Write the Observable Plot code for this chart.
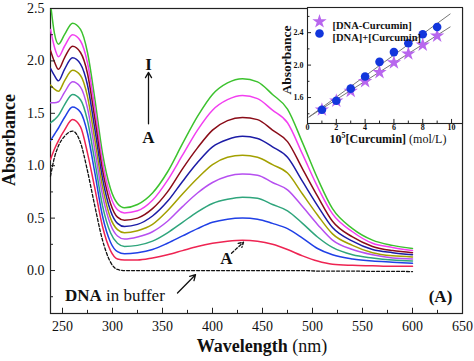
<!DOCTYPE html>
<html><head><meta charset="utf-8">
<script src="https://cdn.jsdelivr.net/npm/d3@7"></script>
<script src="https://cdn.jsdelivr.net/npm/@observablehq/plot@0.6"></script>
<style>
body{margin:0;background:#fff;}
#wrap{position:relative;width:474px;height:361px;}
#inset{position:absolute;left:278px;top:0;}
svg text{font-family:"Liberation Serif","Times New Roman",serif;}
</style></head><body><div id="wrap"></div>
<script>
// ---- Main spectra data ----
const wavelength = [238,242,246,252,260,268,275,282,290,298,305,312,325,340,355,370,385,400,415,430,445,460,475,490,505,520,540,560,580,600];
const seriesNames = ["I","H","G","F","E","D","C","B","A"];
const seriesColors = ["#3cc22e","#f23ff0","#8a0c18","#1c1ca6","#a3a000","#b64ff0","#2fa57c","#2040e6","#ee2452"];
const curveI = [2.55,2.26,2.16,2.25,2.36,2.30,2.08,1.66,1.12,0.78,0.64,0.60,0.63,0.74,0.94,1.21,1.47,1.68,1.79,1.83,1.80,1.68,1.54,1.22,0.88,0.59,0.40,0.29,0.24,0.21];
const curveH = [2.30,2.13,2.04,2.14,2.25,2.19,1.98,1.57,1.04,0.71,0.58,0.55,0.57,0.67,0.86,1.10,1.34,1.53,1.63,1.67,1.64,1.53,1.41,1.11,0.80,0.54,0.37,0.26,0.22,0.19];
const curveG = [2.10,1.99,1.92,2.03,2.14,2.08,1.88,1.47,0.96,0.64,0.51,0.48,0.50,0.59,0.75,0.97,1.17,1.34,1.43,1.46,1.44,1.34,1.23,0.97,0.71,0.47,0.32,0.23,0.19,0.17];
const curveF = [1.93,1.86,1.81,1.92,2.03,1.97,1.77,1.37,0.88,0.57,0.45,0.42,0.44,0.52,0.66,0.85,1.03,1.18,1.25,1.28,1.26,1.18,1.08,0.85,0.62,0.41,0.28,0.20,0.17,0.15];
const curveE = [1.77,1.73,1.71,1.81,1.91,1.86,1.66,1.27,0.80,0.50,0.39,0.36,0.38,0.44,0.57,0.73,0.88,1.01,1.08,1.10,1.08,1.01,0.93,0.73,0.53,0.35,0.24,0.17,0.14,0.13];
const curveD = [1.60,1.60,1.61,1.70,1.80,1.75,1.55,1.17,0.72,0.44,0.33,0.30,0.32,0.37,0.47,0.61,0.74,0.84,0.90,0.92,0.91,0.84,0.77,0.61,0.44,0.29,0.20,0.15,0.12,0.11];
const curveC = [1.41,1.44,1.48,1.58,1.68,1.63,1.43,1.06,0.62,0.36,0.26,0.23,0.24,0.28,0.36,0.46,0.56,0.64,0.68,0.70,0.69,0.63,0.57,0.45,0.32,0.22,0.15,0.12,0.10,0.09];
const curveB = [1.24,1.30,1.36,1.46,1.56,1.51,1.31,0.95,0.52,0.27,0.18,0.16,0.17,0.20,0.26,0.33,0.40,0.46,0.49,0.50,0.49,0.45,0.40,0.31,0.21,0.15,0.11,0.09,0.08,0.07];
const curveA = [1.06,1.16,1.24,1.34,1.44,1.37,1.12,0.80,0.42,0.19,0.11,0.10,0.10,0.12,0.15,0.19,0.23,0.26,0.28,0.29,0.28,0.25,0.20,0.14,0.09,0.06,0.05,0.045,0.04,0.04];
const dnaBuffer = [0.90,1.08,1.19,1.28,1.33,1.22,0.95,0.63,0.29,0.08,0.01,0,0,0,0,0,0,0,0,0,0,0,0,0,-0.005,-0.005,-0.005,-0.008,-0.008,-0.01];

const xTicks = [250,300,350,400,450,500,550,600,650];
const xMinorTicks = [275,325,375,425,475,525,575,625];
const yTicks = [0,0.5,1.0,1.5,2.0,2.5];
const yMinorTicks = [-0.25,0.25,0.75,1.25,1.75,2.25];
const xDomain = [238,650];
const yDomain = [-0.41,2.5];

// ---- Inset data ----
const curcuminConc = [1,2,3,4,5,6,7,8,9];
const absComplex = [1.45,1.56,1.68,1.80,1.91,2.03,2.14,2.25,2.36];   // [DNA-Curcumin]
const absMixture = [1.45,1.56,1.71,1.86,2.04,2.16,2.27,2.38,2.47];   // [DNA]+[Curcumin]
const fitX = [0.1,9.9];
const fitComplex = [1.36,2.47];
const fitMixture = [1.36,2.63];
const insetXTicks = [0,2,4,6,8,10];
const insetXMinor = [1,3,5,7,9];
const insetYTicks = [1.6,2.0,2.4];
const insetYMinor = [1.4,1.8,2.2,2.6];
const legendLabels = ["[DNA-Curcumin]","[DNA]+[Curcumin]"];

const FONT = "'Liberation Serif', 'Times New Roman', serif";
const curves = [curveI,curveH,curveG,curveF,curveE,curveD,curveC,curveB,curveA];
const rows = [];
curves.forEach((c, s) => c.forEach((a, i) => rows.push({series: seriesNames[s], w: wavelength[i], a})));
const dnaRows = dnaBuffer.map((a, i) => ({w: wavelength[i], a}));

const arrows = [
  {x1:336, y1:1.40, x2:336, y2:1.89},
  {x1:365, y1:-0.215, x2:383, y2:-0.04}
];
const dashedArrows = [{x1:419, y1:0.165, x2:431, y2:0.27}];
const boldLabels = [
  {x:336, y:1.97, t:"I"},
  {x:336, y:1.27, t:"A"},
  {x:414, y:0.11, t:"A"},
  {x:628, y:-0.245, t:"(A)"}
];

const main = Plot.plot({
  width: 474, height: 361,
  marginLeft: 50, marginRight: 12, marginTop: 8, marginBottom: 48,
  style: {fontFamily: FONT, fontSize: "14px", color: "#111", background: "white"},
  x: {domain: xDomain, label: null},
  y: {domain: yDomain, label: null},
  color: {domain: seriesNames, range: seriesColors},
  marks: [
    Plot.frame({stroke: "#222", strokeWidth: 1.2}),
    Plot.line(dnaRows, {x: "w", y: "a", stroke: "#111", strokeWidth: 1.3, strokeDasharray: "3,2", curve: "monotone-x"}),
    Plot.line(rows, {x: "w", y: "a", z: "series", stroke: "series", strokeWidth: 1.5, curve: "monotone-x", clip: true}),
    Plot.ruleX(xTicks, {x: d => d, y1: yDomain[0], y2: yDomain[0] + 0.05, stroke: "#222"}),
    Plot.ruleX(xMinorTicks, {x: d => d, y1: yDomain[0], y2: yDomain[0] + 0.03, stroke: "#222"}),
    Plot.ruleY(yTicks, {y: d => d, x1: xDomain[0], x2: xDomain[0] + 5, stroke: "#222"}),
    Plot.ruleY(yMinorTicks, {y: d => d, x1: xDomain[0], x2: xDomain[0] + 3, stroke: "#222"}),
    Plot.axisX(xTicks, {tickSize: 0, tickPadding: 8, fontSize: 14, fontFamily: FONT, label: null, tickFormat: d => String(d)}),
    Plot.axisY(yTicks, {tickSize: 0, tickPadding: 6, fontSize: 14, fontFamily: FONT, label: null, tickFormat: d3.format(".1f")}),
    Plot.arrow(arrows, {x1: "x1", y1: "y1", x2: "x2", y2: "y2", stroke: "#111", strokeWidth: 1.3, headLength: 7}),
    Plot.arrow(dashedArrows, {x1: "x1", y1: "y1", x2: "x2", y2: "y2", stroke: "#111", strokeWidth: 1.3, headLength: 7, strokeDasharray: "3,2"}),
    Plot.text(boldLabels, {x: "x", y: "y", text: "t", fontSize: 17, fontWeight: "bold", fontFamily: FONT, fill: "#111"})
  ]
});

const wrap = document.getElementById("wrap");
wrap.appendChild(main);

const msvg = d3.select(main);
msvg.append("text")
  .attr("transform", "translate(15,140) rotate(-90)")
  .attr("text-anchor", "middle")
  .attr("font-family", FONT).attr("font-size", 18).attr("font-weight", "bold").attr("fill", "#111")
  .text("Absorbance");
const xt = msvg.append("text")
  .attr("x", 262).attr("y", 352).attr("text-anchor", "middle")
  .attr("font-family", FONT).attr("font-size", 18).attr("fill", "#111");
xt.append("tspan").attr("font-weight", "bold").text("Wavelength");
xt.append("tspan").text(" (nm)");
const dl = msvg.append("text")
  .attr("x", 65).attr("y", 301).attr("text-anchor", "start")
  .attr("font-family", FONT).attr("font-size", 17).attr("fill", "#111");
dl.append("tspan").attr("font-weight", "bold").text("DNA");
dl.append("tspan").text(" in buffer");

// ---- Inset ----
const starRows = curcuminConc.map((c, i) => ({c, a: absComplex[i]}));
const circRows = curcuminConc.map((c, i) => ({c, a: absMixture[i]}));
const fitRows = [
  ...fitX.map((x, i) => ({k: "complex", x, y: fitComplex[i]})),
  ...fitX.map((x, i) => ({k: "mixture", x, y: fitMixture[i]}))
];
const ixDomain = [0, 10.76];
const iyDomain = [1.28, 2.71];

const inset = Plot.plot({
  width: 196, height: 150,
  marginLeft: 29, marginRight: 12, marginTop: 7, marginBottom: 27,
  style: {fontFamily: FONT, fontSize: "8px", color: "#111", background: "transparent", overflow: "visible"},
  x: {domain: ixDomain, label: null},
  y: {domain: iyDomain, label: null},
  marks: [
    Plot.frame({fill: "white", stroke: "#222", strokeWidth: 1.1}),
    Plot.line(fitRows, {x: "x", y: "y", z: "k", stroke: "#777", strokeWidth: 1}),
    Plot.dot(starRows, {x: "c", y: "a", symbol: "star", r: 4.5, fill: "#b866ee", stroke: "none"}),
    Plot.dot(circRows, {x: "c", y: "a", symbol: "circle", r: 4.3, fill: "#1236dc", stroke: "none"}),
    Plot.ruleX(insetXTicks, {x: d => d, y1: iyDomain[0], y2: iyDomain[0] + 0.05, stroke: "#222"}),
    Plot.ruleX(insetXMinor, {x: d => d, y1: iyDomain[0], y2: iyDomain[0] + 0.03, stroke: "#222"}),
    Plot.ruleY(insetYTicks, {y: d => d, x1: ixDomain[0], x2: ixDomain[0] + 0.28, stroke: "#222"}),
    Plot.ruleY(insetYMinor, {y: d => d, x1: ixDomain[0], x2: ixDomain[0] + 0.17, stroke: "#222"}),
    Plot.axisX(insetXTicks, {tickSize: 0, tickPadding: 1, fontSize: 8, fontWeight: "bold", fontFamily: FONT, label: null, tickFormat: d => String(d)}),
    Plot.axisY(insetYTicks, {tickSize: 0, tickPadding: 4, fontSize: 8, fontWeight: "bold", fontFamily: FONT, label: null, tickFormat: d3.format(".1f")}),
    Plot.dot([legendLabels[0]], {frameAnchor: "top-left", dx: 12, dy: 14, symbol: "star", r: 4.5, fill: "#b866ee"}),
    Plot.dot([legendLabels[1]], {frameAnchor: "top-left", dx: 12, dy: 26, symbol: "circle", r: 4.3, fill: "#1236dc"}),
    Plot.text([legendLabels[0]], {frameAnchor: "top-left", dx: 25, dy: 14, text: d => d, textAnchor: "start", fontSize: 10.5, fontWeight: "bold", fontFamily: FONT, fill: "#111"}),
    Plot.text([legendLabels[1]], {frameAnchor: "top-left", dx: 25, dy: 26, text: d => d, textAnchor: "start", fontSize: 10.5, fontWeight: "bold", fontFamily: FONT, fill: "#111"})
  ]
});
inset.id = "inset";
wrap.appendChild(inset);

const isvg = d3.select(inset);
isvg.append("text")
  .attr("transform", "translate(13,60) rotate(-90)")
  .attr("text-anchor", "middle")
  .attr("font-family", FONT).attr("font-size", 13.5).attr("font-weight", "bold").attr("fill", "#111")
  .text("Absorbance");
const ixt = isvg.append("text")
  .attr("x", 110).attr("y", 143).attr("text-anchor", "middle")
  .attr("font-family", FONT).attr("font-size", 12).attr("fill", "#111");
ixt.append("tspan").attr("font-weight", "bold").text("10");
ixt.append("tspan").attr("font-weight", "bold").attr("font-size", 8).attr("dy", -5).text("5");
ixt.append("tspan").attr("font-weight", "bold").attr("dy", 5).text("[Curcumin]");
ixt.append("tspan").text(" (mol/L)");
</script>
</body></html>
